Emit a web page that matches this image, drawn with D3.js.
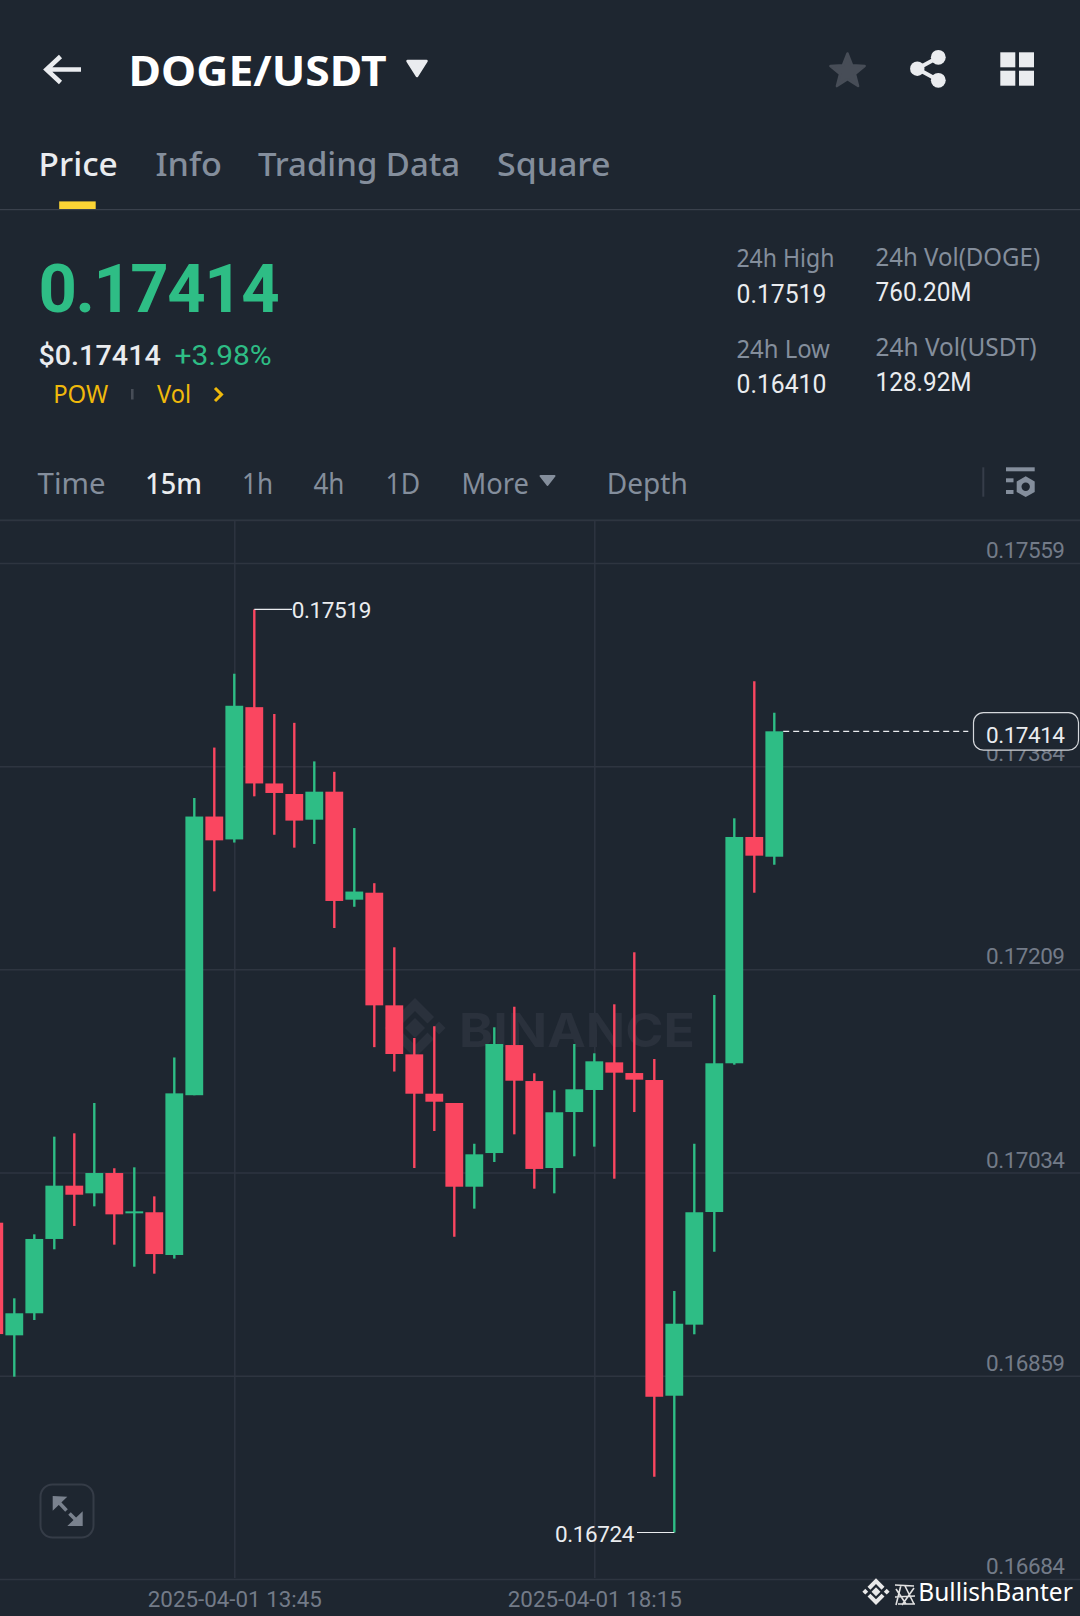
<!DOCTYPE html>
<html>
<head>
    <meta charset="utf-8">
    <script src="https://d3js.org/d3.v7.min.js" charset="utf-8"></script>
    <style>
        html, body { margin: 0; padding: 0; background: #1e2630; }
        svg { display: block; }
    </style>
</head>

<body>
<script>
    // 15m candles, 2025-04-01
    const candleTimes = ["10:45","11:00","11:15","11:30","11:45","12:00","12:15","12:30","12:45","13:00",
        "13:15","13:30","13:45","14:00","14:15","14:30","14:45","15:00","15:15","15:30",
        "15:45","16:00","16:15","16:30","16:45","17:00","17:15","17:30","17:45","18:00",
        "18:15","18:30","18:45","19:00","19:15","19:30","19:45","20:00","20:15","20:30"];
    const candleOpen = [0.169908,0.168938,0.169128,0.169768,0.170227,0.170161,0.170336,0.169989,0.169998,0.169630,
        0.171006,0.173406,0.173209,0.174348,0.173691,0.173600,0.173379,0.173620,0.172690,0.172750,
        0.171780,0.171358,0.171019,0.170939,0.170218,0.170508,0.171438,0.171128,0.170379,0.170861,
        0.171051,0.171289,0.171197,0.171137,0.168418,0.169030,0.170000,0.171281,0.173230,0.173060];
    const candleClose = [0.168949,0.169128,0.169768,0.170227,0.170149,0.170336,0.169980,0.170006,0.169638,0.171022,
        0.173406,0.173201,0.174360,0.173691,0.173609,0.173371,0.173620,0.172679,0.172760,0.171780,
        0.171361,0.171019,0.170950,0.170218,0.170497,0.171447,0.171131,0.170371,0.170859,0.171057,
        0.171298,0.171200,0.171140,0.168409,0.169038,0.169998,0.171281,0.173230,0.173069,0.174140];
    const candleHigh = [0.169908,0.169257,0.169808,0.170649,0.170678,0.170939,0.170377,0.170385,0.170135,0.171331,
        0.173566,0.174000,0.174636,0.175190,0.174289,0.174213,0.173881,0.173791,0.173307,0.172832,
        0.172280,0.171499,0.171600,0.170939,0.170588,0.171591,0.171768,0.171195,0.171048,0.171447,
        0.171367,0.171789,0.172237,0.171318,0.169320,0.170588,0.171869,0.173391,0.174571,0.174300];
    const candleLow = [0.168949,0.168582,0.169070,0.169679,0.169880,0.170049,0.169719,0.169529,0.169469,0.169599,
        0.171006,0.172762,0.173182,0.173580,0.173249,0.173138,0.173170,0.172446,0.172629,0.171420,
        0.171210,0.170379,0.170698,0.169787,0.170029,0.170431,0.170669,0.170201,0.170161,0.170480,
        0.170563,0.170287,0.170861,0.167720,0.167240,0.168947,0.169658,0.171269,0.172750,0.172991];

    const priceTicks = [0.17559, 0.17384, 0.17209, 0.17034, 0.16859, 0.16684];
    const timeTicks = ["13:45", "18:15"];
    const tickDate = "2025-04-01 ";
    const lastPrice = 0.17414;
    const shownHigh = 0.17519;
    const shownLow = 0.16724;

    const tabLabels = ["Price", "Info", "Trading Data", "Square"];
    const intervalLabels = ["Time", "15m", "1h", "4h", "1D", "More", "Depth"];
    const statLabels = ["24h High", "24h Vol(DOGE)", "24h Low", "24h Vol(USDT)"];
    const statValues = ["0.17519", "760.20M", "0.16410", "128.92M"];

    const BG = "#1e2630", GREEN = "#2ebd85", RED = "#fa4660", LIGHT = "#eaecef",
          GREY = "#848e9c", AXIS = "#737b88", LINE = "#2e3540", GOLD = "#f0b90b";
    const PLEX = "'Noto Sans', sans-serif", DIN = "Roboto, sans-serif";

    const svg = d3.select("body").append("svg").attr("width", 1080).attr("height", 1616);
    svg.append("rect").attr("width", 1080).attr("height", 1616).attr("fill", BG);

    // text helper: x and width are the measured left edge and run of the string
    const label = (parent, str, x, base, size, fill, weight, family, width) => {
        const t = parent.append("text").attr("x", x).attr("y", base)
            .attr("font-size", size).attr("font-family", family)
            .attr("font-weight", weight).attr("fill", fill).text(str);
        if (width) t.attr("textLength", width).attr("lengthAdjust", "spacingAndGlyphs");
        return t;
    };

    // ---- scales and axes ----
    const x = d3.scalePoint().domain(candleTimes).range([-5.7, 774.3]);
    const y = d3.scaleLinear().domain([0.16684, 0.17559]).range([1578.95, 562.95]);

    const xAxis = d3.axisBottom(x).tickValues(timeTicks).tickSize(1057).tickPadding(0)
        .tickFormat(d => tickDate + d);
    const xG = svg.append("g").attr("transform", "translate(0,521)").call(xAxis);
    xG.select(".domain").remove();
    xG.selectAll("line").attr("stroke", LINE).attr("stroke-width", 1.5);
    xG.selectAll("text").attr("y", 1085.6).attr("dy", 0)
        .attr("font-size", 22).attr("font-family", DIN).attr("fill", AXIS)
        .attr("textLength", 174).attr("lengthAdjust", "spacingAndGlyphs");

    const yAxis = d3.axisRight(y).tickValues(priceTicks).tickSize(1080).tickPadding(0)
        .tickFormat(d3.format(".5f"));
    const yG = svg.append("g").call(yAxis);
    yG.select(".domain").remove();
    yG.selectAll("line").attr("stroke", LINE).attr("stroke-width", 1.5);
    yG.selectAll("text").attr("x", 986).attr("y", -5.4).attr("dy", 0)
        .attr("text-anchor", "start")
        .attr("font-size", 22.5).attr("font-family", DIN).attr("fill", AXIS)
        .attr("textLength", 79).attr("lengthAdjust", "spacing");

    // ---- watermark ----
    const mark = svg.append("g").attr("fill", "#2a313c");
    const binanceLogo = (g, cx, cy, s) => {
        // s = half size of the whole logo
        const k = s / 30;
        const p = g.append("g").attr("transform", `translate(${cx},${cy}) scale(${k})`);
        p.append("path").attr("d", "M0,-10 L10,0 L0,10 L-10,0Z");
        p.append("path").attr("d", "M-30.5,0 L-24,-6.5 L-17.5,0 L-24,6.5Z M30.5,0 L24,-6.5 L17.5,0 L24,6.5Z");
        p.append("path").attr("d", "M0,-30 L19,-11 L12.5,-4.5 L0,-17 L-12.5,-4.5 L-19,-11Z");
        p.append("path").attr("d", "M0,30 L19,11 L12.5,4.5 L0,17 L-12.5,4.5 L-19,11Z");
    };
    binanceLogo(mark, 415, 1028, 30);
    label(mark, "BINANCE", 459, 1046.7, 47, "#2a313c", 700, "Inter, sans-serif", 236);

    // ---- candles ----
    const candles = candleTimes.map((t, i) => ({
        t: t, open: candleOpen[i], close: candleClose[i], high: candleHigh[i], low: candleLow[i]
    }));
    const colour = d => d.close >= d.open ? GREEN : RED;
    const cG = svg.append("g");
    cG.selectAll("line.wick").data(candles).enter().append("line")
        .attr("class", "wick")
        .attr("x1", d => x(d.t)).attr("x2", d => x(d.t))
        .attr("y1", d => y(d.high)).attr("y2", d => y(d.low))
        .attr("stroke", colour).attr("stroke-width", 2.4);
    cG.selectAll("rect.body").data(candles).enter().append("rect")
        .attr("class", "body")
        .attr("x", d => x(d.t) - 8.9).attr("width", 17.8)
        .attr("y", d => y(Math.max(d.open, d.close)))
        .attr("height", d => Math.max(2, Math.abs(y(d.open) - y(d.close))))
        .attr("fill", colour);

    // ---- high / low notes ----
    const highCandle = candles.find(d => d.high === shownHigh);
    const lowCandle = candles.find(d => d.low === shownLow);
    svg.append("line").attr("x1", x(highCandle.t)).attr("x2", 292)
        .attr("y1", y(shownHigh)).attr("y2", y(shownHigh)).attr("stroke", LIGHT).attr("stroke-width", 1.2);
    label(svg, d3.format(".5f")(shownHigh), 291.8, y(shownHigh) + 8.6, 22.5, LIGHT, 400, DIN, 79.5).attr("lengthAdjust", "spacing");
    svg.append("line").attr("x1", 637).attr("x2", x(lowCandle.t))
        .attr("y1", y(shownLow)).attr("y2", y(shownLow)).attr("stroke", LIGHT).attr("stroke-width", 1.2);
    label(svg, d3.format(".5f")(shownLow), 555, y(shownLow) + 9.4, 22.5, LIGHT, 400, DIN, 79.5).attr("lengthAdjust", "spacing");

    // ---- last price ----
    svg.append("line").attr("x1", x(candleTimes[candleTimes.length - 1]) + 8.9).attr("x2", 968.3)
        .attr("y1", y(lastPrice)).attr("y2", y(lastPrice))
        .attr("stroke", LIGHT).attr("stroke-width", 1.2).attr("stroke-dasharray", "6 4");
    svg.append("rect").attr("x", 973.5).attr("y", 712.6).attr("width", 105).attr("height", 37.6).attr("rx", 10)
        .attr("fill", BG).attr("stroke", "#d5d8dc").attr("stroke-width", 1.2);
    label(svg, d3.format(".5f")(lastPrice), 986, 742.7, 22.5, LIGHT, 400, DIN, 79).attr("lengthAdjust", "spacing");

    // ---- header ----
    const head = svg.append("g");
    head.append("path").attr("d", "M81,69.5 H47 M60.5,56.5 L46.5,69.5 L60.5,82.5")
        .attr("fill", "none").attr("stroke", LIGHT).attr("stroke-width", 4.6);
    label(head, "DOGE/USDT", 128.6, 85.7, 42, "#ffffff", 700, PLEX, 258);
    head.append("path").attr("d", "M407.5,61 H426.5 L417,76Z").attr("fill", LIGHT)
        .attr("stroke", LIGHT).attr("stroke-width", 2.5).attr("stroke-linejoin", "round");

    // star
    const star = d3.range(10).map(i => {
        const r = i % 2 ? 7.8 : 18, a = -Math.PI / 2 + i * Math.PI / 5;
        return [847.5 + r * Math.cos(a), 71.5 + r * Math.sin(a)];
    });
    head.append("path").attr("d", d3.line()(star) + "Z").attr("fill", "#474d57")
        .attr("stroke", "#474d57").attr("stroke-width", 2.5).attr("stroke-linejoin", "round");

    // share
    head.append("path").attr("d", "M938.3,57.3 L917.3,68.7 L938.3,80.3").attr("fill", "none")
        .attr("stroke", LIGHT).attr("stroke-width", 4);
    head.append("circle").attr("cx", 938.3).attr("cy", 57.3).attr("r", 7.4).attr("fill", LIGHT);
    head.append("circle").attr("cx", 917.3).attr("cy", 68.7).attr("r", 7.2).attr("fill", LIGHT);
    head.append("circle").attr("cx", 938.3).attr("cy", 80.3).attr("r", 7.4).attr("fill", LIGHT);

    // grid icon
    [[1000.3, 52.3], [1019, 52.3], [1000.3, 70.7], [1019, 70.7]].forEach(c => {
        head.append("rect").attr("x", c[0]).attr("y", c[1]).attr("width", 15).attr("height", 15).attr("fill", LIGHT);
    });

    // ---- tabs ----
    const tabX = [[38.6, 79.2], [155.4, 66.6], [258, 202.2], [497, 113.5]];
    tabLabels.forEach((t, i) => {
        label(svg, t, tabX[i][0], 175.6, 33, i === 0 ? LIGHT : GREY, 500, PLEX, tabX[i][1]);
    });
    svg.append("rect").attr("x", 59.2).attr("y", 201.4).attr("width", 36.5).attr("height", 7.6).attr("fill", "#fcd535");
    svg.append("rect").attr("y", 209).attr("width", 1080).attr("height", 1.2).attr("fill", "#3a414c");

    // ---- price block ----
    label(svg, "0.17414", 38.6, 311.6, 67, GREEN, 700, DIN, 241).attr("lengthAdjust", "spacing");
    label(svg, "$0.17414", 38.4, 365.2, 28, LIGHT, 500, DIN, 122.5);
    label(svg, "+3.98%", 174.6, 365.2, 28, GREEN, 400, DIN, 97);
    label(svg, "POW", 53.2, 403, 25, GOLD, 400, PLEX, 55);
    svg.append("rect").attr("x", 131).attr("y", 389).attr("width", 2.6).attr("height", 10.5).attr("fill", "#474d57");
    label(svg, "Vol", 157, 403, 25, GOLD, 400, PLEX, 34);
    svg.append("path").attr("d", "M215,388 L221.5,394.5 L215,401").attr("fill", "none")
        .attr("stroke", GOLD).attr("stroke-width", 3);

    const statX = [[736.4, 98], [875.6, 164.5], [736.4, 93.5], [875.6, 161]];
    const statLabelBase = [267, 265.8, 358, 356.4];
    const valueX = [[736.6, 89.8], [875.6, 96], [736.6, 89.8], [875.6, 96]];
    const valueBase = [303.2, 300.8, 393.4, 391];
    statLabels.forEach((t, i) => {
        label(svg, t, statX[i][0], statLabelBase[i], 25, GREY, 400, PLEX, statX[i][1]);
        label(svg, statValues[i], valueX[i][0], valueBase[i], 25, LIGHT, 400, DIN, valueX[i][1]);
    });

    // ---- interval row ----
    const intervalX = [[37.6, 68], [145.2, 56.6], [242, 31], [313.4, 31], [385.6, 34.6], [461.4, 67.4], [606.8, 81]];
    intervalLabels.forEach((t, i) => {
        label(svg, t, intervalX[i][0], 494, 29, i === 1 ? LIGHT : GREY, i === 1 ? 500 : 400, PLEX, intervalX[i][1]);
    });
    svg.append("path").attr("d", "M540.5,476 H554.5 L547.5,485Z").attr("fill", GREY)
        .attr("stroke", GREY).attr("stroke-width", 2).attr("stroke-linejoin", "round");
    svg.append("rect").attr("x", 982.3).attr("y", 467.3).attr("width", 2).attr("height", 29.4).attr("fill", "#363d49");

    // settings icon
    const cfg = svg.append("g").attr("fill", GREY);
    cfg.append("rect").attr("x", 1006).attr("y", 467.3).attr("width", 28.7).attr("height", 4);
    cfg.append("rect").attr("x", 1006).attr("y", 478.3).attr("width", 7.5).attr("height", 4);
    cfg.append("rect").attr("x", 1006).attr("y", 490).attr("width", 7.5).attr("height", 4);
    const hex = d3.range(6).map(i => {
        const a = -Math.PI / 2 + i * Math.PI / 3;
        return [1025.7 + 10.4 * Math.cos(a), 486.7 + 10.4 * Math.sin(a)];
    });
    cfg.append("path").attr("d", d3.line()(hex) + "Z");
    cfg.append("circle").attr("cx", 1025.7).attr("cy", 486.7).attr("r", 4.2).attr("fill", BG);

    svg.append("rect").attr("y", 519.4).attr("width", 1080).attr("height", 1.8).attr("fill", LINE);

    // ---- expand button ----
    const btn = svg.append("g");
    btn.append("rect").attr("x", 40.5).attr("y", 1484.5).attr("width", 53).attr("height", 53).attr("rx", 12)
        .attr("fill", "none").attr("stroke", "#353c47").attr("stroke-width", 2);
    btn.append("path").attr("fill", "#7a828e")
        .attr("d", "M52.7,1496 L67.3,1496.7 L52.7,1510.7Z M82.7,1511.3 L82.7,1526 L67.3,1526Z");
    btn.append("path").attr("fill", "none").attr("stroke", "#7a828e").attr("stroke-width", 3.6)
        .attr("d", "M59,1502.5 L66.5,1510.5 M69.5,1513.5 L76.5,1520.5");

    // ---- corner credit ----
    const credit = svg.append("g");
    binanceLogo(credit.append("g").attr("fill", "#e8e8e8"), 876, 1591.7, 13.4);
    credit.append("path").attr("fill", "none").attr("stroke", "#e2e2e2").attr("stroke-width", 1.6)
        .attr("d", "M895,1585 L914,1586 M896,1589 L906,1604 M901,1585 L896,1605 M905,1586 L914,1604 M914,1588 L902,1605 M895,1597 L915,1596 M898,1604 L915,1604");
    label(credit, "BullishBanter", 918.3, 1600.7, 25, "#ffffff", 400, PLEX, 154.5);
</script>
</body>
</html>
